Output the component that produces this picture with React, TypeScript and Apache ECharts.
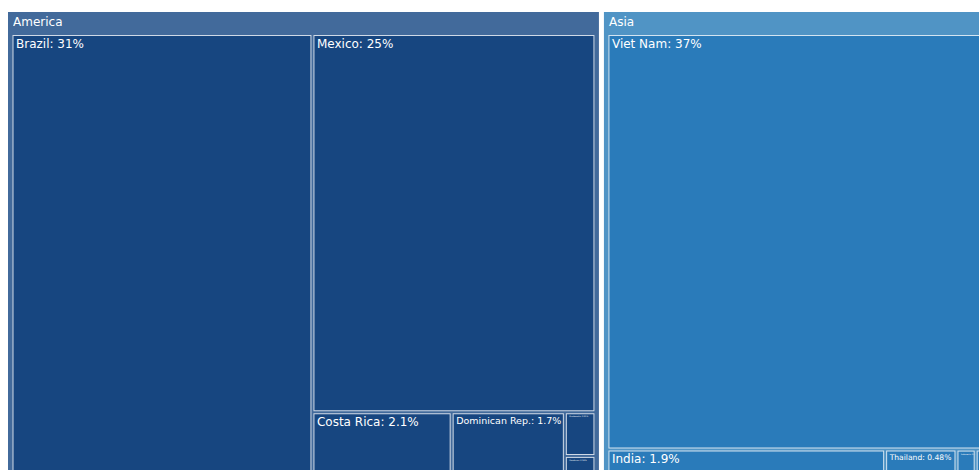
import React, { useEffect, useRef } from 'react';
import * as echarts from 'echarts';

const continents = ['America', 'Asia'];
const americaNames = ['Brazil', 'Mexico', 'Costa Rica', 'Dominican Rep.', 'Guatemala', 'Honduras'];
const americaValues = [31.0, 24.8, 2.14, 1.74, 0.31, 0.16];
const asiaNames = ['Viet Nam', 'India', 'Thailand', 'Indonesia', 'Sri Lanka'];
const asiaValues = [37.0, 1.88, 0.483, 0.13, 0.08];

const headerColors: Record<string, string> = { America: '#426a9b', Asia: '#5094c5' };
const leafColors: Record<string, string> = { America: '#174680', Asia: '#2a7bba' };
const labelSizes: Record<string, number> = {
  'Dominican Rep.': 9.5,
  Thailand: 7.6,
  Guatemala: 2,
  Honduras: 2,
  Indonesia: 2,
  'Sri Lanka': 2,
};
const FONT = 'DejaVu Sans';

export default function App() {
  const ref = useRef<HTMLDivElement>(null);
  useEffect(() => {
    const chart = echarts.init(ref.current!, null, { renderer: 'svg' });
    const groups = [
      { name: continents[0], names: americaNames, values: americaValues },
      { name: continents[1], names: asiaNames, values: asiaValues },
    ];
    const total = [...americaValues, ...asiaValues].reduce((a, b) => a + b, 0);
    const pct = (v: number) => ((v / total) * 100).toPrecision(2) + '%';
    const data = groups.map((g) => ({
      name: g.name,
      itemStyle: { borderColor: headerColors[g.name] },
      children: g.names.map((n, i) => ({
        name: n,
        value: g.values[i],
        itemStyle: { color: leafColors[g.name] },
        label: { fontSize: labelSizes[n] ?? 12 },
      })),
    }));
    chart.setOption({
      animation: false,
      series: [
        {
          type: 'treemap',
          left: 0,
          top: 4,
          width: 983,
          height: 470,
          roam: false,
          nodeClick: false,
          breadcrumb: { show: false },
          squareRatio: 1,
          visibleMin: 0,
          sort: 'desc',
          levels: [
            { itemStyle: { borderWidth: 0, gapWidth: 5, borderColor: '#fff' } },
            {
              itemStyle: { borderWidth: 4.5, gapWidth: 2 },
              upperLabel: {
                show: true,
                height: 23,
                position: 'insideLeft',
                distance: 0.5,
                offset: [0, -1.5],
                padding: 0,
                color: '#fff',
                fontSize: 12,
                fontFamily: FONT,
                formatter: '{b}',
              },
            },
            { itemStyle: { borderWidth: 1, borderColor: 'rgba(255,255,255,0.75)', gapWidth: 0 } },
          ],
          label: {
            show: true,
            position: [2.5, 1.5],
            padding: 0,
            color: '#fff',
            fontFamily: FONT,
            fontSize: 12,
            formatter: (p: any) => p.name + ': ' + pct(p.value),
          },
          data,
        },
      ],
    });
    return () => chart.dispose();
  }, []);
  return (
    <div
      ref={ref}
      style={{ position: 'absolute', left: 8, top: 8, width: 971, height: 462 }}
    />
  );
}
